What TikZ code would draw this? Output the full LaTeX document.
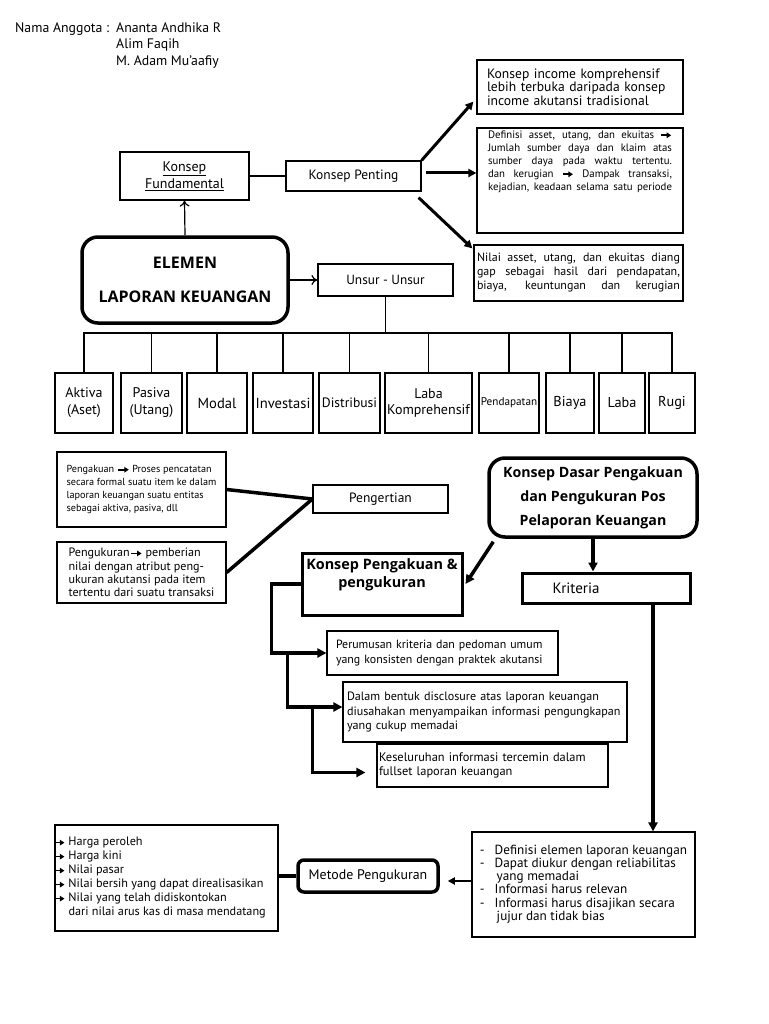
\documentclass[tikz,border=0pt]{standalone}
\usepackage{fontspec}
\setmainfont{PT Sans}
\newfontfamily\headfont{Open Sans}
\usetikzlibrary{arrows.meta,calc,positioning}

\newcommand{\fsz}[2]{\fontsize{#1}{#2}\selectfont}
\newcommand{\harr}[1][9pt]{\tikz[baseline=-0.55ex]\draw[line width=1.6pt,-{Triangle[length=4.5pt,width=5.5pt]}] (0pt,0pt) -- (#1,0pt);}
\newcommand{\jline}[2]{\makebox[#1][s]{#2}}

\begin{document}
\begin{tikzpicture}[x=1pt,y=-1pt,
	box/.style={draw,line width=1.2pt,inner sep=0pt,align=center,font=\fsz{13.5}{15}},
	fatbox/.style={box,line width=3pt},
	roundbox/.style={box,line width=3.5pt,rounded corners=16pt},
	thin/.style={line width=1.2pt,-{To[length=6pt,width=10pt]}},
	fat/.style={line width=3.5pt,-{Triangle[length=9pt,width=9pt]}},
	fatline/.style={line width=3.5pt}]
	\useasboundingbox (0,0) rectangle (768,1024);

	% header
	\node[anchor=north west,inner sep=0pt,font=\fsz{13.8}{17}] (nama) at (15,22) {Nama Anggota :};
	\node[anchor=north west,inner sep=0pt,align=left,font=\fsz{13.8}{16.5}] (anggota) at (116,22) {Ananta Andhika R\\Alim Faqih\\M. Adam Mu’aafiy};

	% upper part
	\node[box,minimum width=129,minimum height=48,font=\fsz{14}{17}] (fund) at (184.5,176) {\underline{Konsep}\\\underline{Fundamental}};
	\node[box,minimum width=135,minimum height=30] (penting) at (353.5,176) {Konsep Penting};
	\node[roundbox,minimum width=206,minimum height=86,font=\headfont\bfseries\fsz{16}{34}] (elemen) at (185,280) {ELEMEN\\LAPORAN KEUANGAN};
	\node[box,minimum width=135,minimum height=32,font=\fsz{13.3}{15}] (unsur) at (385.5,280) {Unsur - Unsur};

	\node[box,minimum width=206,minimum height=54,text width=186,align=left,font=\fsz{13.6}{13.5}] (income) at (580,87) {Konsep income komprehensif\\lebih terbuka daripada konsep\\income akutansi tradisional};
	\node[box,minimum width=206,minimum height=105] (definisi) at (580,180.5) {};
	\node[anchor=north,inner sep=0pt,align=left,font=\fsz{10.8}{13}] (definisitxt) at ([yshift=-3pt]definisi.north) {\jline{184pt}{Definisi asset, utang, dan ekuitas \harr[10pt]}\\\jline{184pt}{Jumlah sumber daya dan klaim atas}\\\jline{184pt}{sumber daya pada waktu tertentu.}\\\jline{184pt}{dan kerugian \harr[10pt] Dampak transaksi,}\\\jline{184pt}{kejadian, keadaan selama satu periode}};
	\node[box,minimum width=209,minimum height=56,align=left,font=\fsz{12}{14}] (nilai) at (578.5,273) {\jline{203pt}{Nilai asset, utang, dan ekuitas diang}\\\jline{203pt}{gap sebagai hasil dari pendapatan,}\\\jline{203pt}{biaya, keuntungan dan kerugian}};

	\draw[line width=1.2pt] (fund.east) -- (penting.west);
	\draw[thin] (elemen.north) -- (fund.south);
	\draw[thin] (elemen.east) -- (unsur.west);
	\draw[line width=3pt,-{Triangle[length=8pt,width=8pt]}] (penting.north east) -- ($(income.south west)+(-3,-13)$);
	\draw[line width=3pt,-{Triangle[length=8pt,width=8pt]}] ([xshift=4pt,yshift=3pt]penting.east) -- ([yshift=3pt]penting.east -| definisi.west);
	\draw[line width=3pt,-{Triangle[length=8pt,width=8pt]}] ($(penting.south east)+(-3,6)$) -- ($(nilai.north west)+(-1,4)$);

	% unsur
	\node[box,minimum width=58,minimum height=60,font=\fsz{14}{17}] (aktiva) at (84,403) {Aktiva\\(Aset)};
	\node[box,minimum width=61,minimum height=60,font=\fsz{14}{17}] (pasiva) at (151.5,403) {Pasiva\\(Utang)};
	\node[box,minimum width=60,minimum height=60,font=\fsz{14.6}{17}] (modal) at (217,403) {Modal};
	\node[box,minimum width=60,minimum height=60,font=\fsz{14.6}{17}] (investasi) at (283,403) {Investasi};
	\node[box,minimum width=61,minimum height=60,font=\fsz{13.6}{17}] (distribusi) at (349.5,403) {Distribusi};
	\node[box,minimum width=87,minimum height=60,font=\fsz{14}{16}] (labakomp) at (428.5,403) {Laba\\Komprehensif};
	\node[box,minimum width=60,minimum height=60,font=\fsz{11.2}{12}] (pendapatan) at (509,403) {Pendapatan};
	\node[box,minimum width=48,minimum height=60,font=\fsz{14.3}{17}] (biaya) at (570,403) {Biaya};
	\node[box,minimum width=46,minimum height=60,font=\fsz{14.3}{17}] (laba) at (622,403) {Laba};
	\node[box,minimum width=46,minimum height=60,font=\fsz{14.3}{17}] (rugi) at (672,403) {Rugi};

	\coordinate (bus) at (385.5,333);
	\draw[line width=1.2pt] (unsur.south) -- (bus);
	\draw[line width=1.2pt] (bus) -| (aktiva.north);
	\draw[line width=1.2pt] (bus) -| (pasiva.north);
	\draw[line width=1.2pt] (bus) -| (modal.north);
	\draw[line width=1.2pt] (bus) -| (investasi.north);
	\draw[line width=1.2pt] (bus) -| (distribusi.north);
	\draw[line width=1.2pt] (bus) -| (labakomp.north);
	\draw[line width=1.2pt] (bus) -| (pendapatan.north);
	\draw[line width=1.2pt] (bus) -| (biaya.north);
	\draw[line width=1.2pt] (bus) -| (laba.north);
	\draw[line width=1.2pt] (bus) -| (rugi.north);

	% pengertian
	\node[box,minimum width=169,minimum height=75,align=left,font=\fsz{10.2}{13}] (akuan) at (141.5,489.5) {Pengakuan \harr[11pt] Proses pencatatan\\secara formal suatu item ke dalam\\laporan keuangan suatu entitas\\sebagai aktiva, pasiva, dll};
	\node[box,minimum width=169,minimum height=61,align=left,font=\fsz{12.1}{13.3}] (ukur) at (141.5,572.5) {Pengukuran\harr[11pt] pemberian\\nilai dengan atribut peng-\\ukuran akutansi pada item\\tertentu dari suatu transaksi};
	\node[box,minimum width=135,minimum height=28] (pengertian) at (380.5,499) {Pengertian};
	\draw[fatline] (akuan.east) -- (pengertian.west);
	\draw[fatline] (ukur.east) -- (pengertian.west);

	% konsep dasar
	\node[roundbox,minimum width=208,minimum height=79,font=\headfont\bfseries\fsz{14.2}{24}] (dasar) at (593,497.5) {Konsep Dasar Pengakuan\\dan Pengukuran Pos\\Pelaporan Keuangan};
	\node[fatbox,minimum width=160,minimum height=62] (kpp) at (382,584) {};
	\node[inner sep=0pt,align=center,font=\headfont\bfseries\fsz{14.4}{18}] (kpptxt) at ([yshift=9pt]kpp.center) {Konsep Pengakuan \&\\pengukuran};
	\node[fatbox,minimum width=168,minimum height=30] (kriteria) at (606,588) {};
	\node[inner sep=0pt,font=\fsz{15}{16}] (kriteriatxt) at ([xshift=-30pt]kriteria.center) {Kriteria};
	\draw[fat] (dasar.south) -- (dasar.south |- kriteria.north);
	\draw[fat] ($(dasar.south west)+(6,3)$) -- ([xshift=2pt]kpp.east);

	\node[box,minimum width=231,minimum height=44,text width=213,align=left,font=\fsz{11.9}{15}] (rumus) at (442.5,653) {Perumusan kriteria dan pedoman umum\\yang konsisten dengan praktek akutansi};
	\node[box,minimum width=284,minimum height=60,text width=276,align=left,font=\fsz{12.1}{14.5}] (dalam) at (485,712) {Dalam bentuk disclosure atas laporan keuangan\\diusahakan menyampaikan informasi pengungkapan\\yang cukup memadai};
	\node[box,minimum width=231,minimum height=43,text width=227,align=left,font=\fsz{12.4}{14}] (kes) at (492.5,765.5) {Keseluruhan informasi tercemin dalam\\fullset laporan keuangan};
	\draw[fat] (kpp.west) -- ++(-29,0) |- (rumus.west);
	\draw[fat] ($(kpp.west)+(-13,69)$) |- ([yshift=5pt]dalam.west);
	\draw[fat,shorten >=11pt] ($(kpp.west)+(12,123)$) |- ([yshift=-7pt]kes.west);

	% kriteria dan metode
	\node[box,minimum width=223,minimum height=105,font=\fsz{13.2}{13}] (syarat) at (583.5,884.5) {\begin{tabular}{@{}l@{\hspace{10pt}}l@{}}
		- & Definisi elemen laporan keuangan\\
		- & Dapat diukur dengan reliabilitas\\
		 & \hspace{2pt}yang memadai\\
		- & Informasi harus relevan\\
		- & Informasi harus disajikan secara\\
		 & \hspace{2pt}jujur dan tidak bias
	\end{tabular}};
	\draw[fat] ([xshift=47pt]kriteria.south) -- ([xshift=47pt]kriteria.south |- syarat.north);
	\node[roundbox,minimum width=140,minimum height=32,rounded corners=6pt,font=\fsz{13.9}{15}] (metode) at (368,876) {Metode Pengukuran};
	\draw[line width=2pt,-{Triangle[length=7pt,width=7pt]},shorten >=8pt] ([yshift=3.5pt]syarat.west) -- ([yshift=3.5pt]syarat.west -| metode.east);
	\node[box,minimum width=223,minimum height=106] (harga) at (166.5,878) {};
	\node[anchor=west,inner sep=0pt,align=left,font=\fsz{12.2}{14}] (hargatxt) at ([xshift=1pt]harga.west) {\harr[8pt] Harga peroleh\\\harr[8pt] Harga kini\\\harr[8pt] Nilai pasar\\\harr[8pt] Nilai bersih yang dapat direalisasikan\\\harr[8pt] Nilai yang telah didiskontokan\\\hspace*{13pt}dari nilai arus kas di masa mendatang};
	\draw[fatline] (metode.west) -- (metode.west -| harga.east);
\end{tikzpicture}
\end{document}
